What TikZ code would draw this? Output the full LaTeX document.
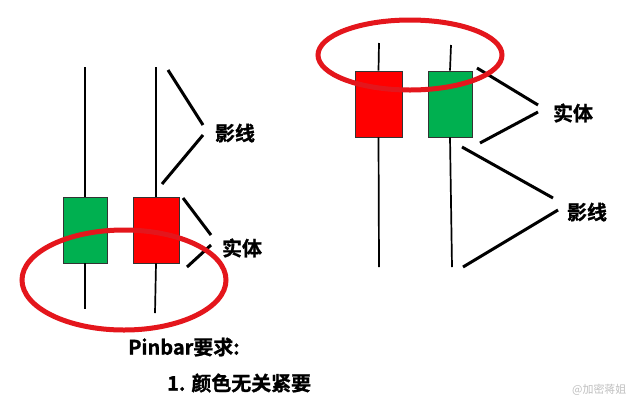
\documentclass[tikz,border=0pt]{standalone}
\usepackage{fontspec}
\usetikzlibrary{shapes.geometric}
\newfontfamily\cjk{Noto Sans CJK SC}[BoldFont={Noto Sans CJK SC Bold},BoldFeatures={FakeBold=1.2}]
\definecolor{cgreen}{RGB}{0,176,80}
\definecolor{cred}{RGB}{255,0,0}
\definecolor{ering}{RGB}{228,22,28}
\begin{document}
\begin{tikzpicture}[x=1bp,y=-1bp,
  body/.style={draw=black!80,line width=0.8bp,minimum width=44bp,minimum height=66bp,inner sep=0pt},
  wick/.style={line width=1.7bp,black},
  pointer/.style={line width=3bp,black},
  lbl/.style={font=\cjk\bfseries\fontsize{20}{24}\selectfont,inner sep=0pt},
  ring/.style={draw=ering,line width=5bp}]
\useasboundingbox (0,0) rectangle (639,408);
\fill[white] (0,0) rectangle (639,408);
% left pair
\coordinate (gt) at (85,67); \coordinate (gb) at (85,309);
\coordinate (rt) at (156,67); \coordinate (rb) at (155,313);
\node[body,fill=cgreen] (g1) at (85,230) {};
\node[body,fill=cred,minimum width=46bp] (r1) at (156,230) {};
\draw[wick] (g1.north) -- (gt);
\draw[wick] (g1.south) -- (gb);
\draw[wick] (r1.north) -- (rt);
\draw[wick] (r1.south) -- (rb);
\node[lbl] (ysx1) at (235,133) {影线};
\node[lbl] (st1) at (242,248) {实体};
\coordinate (a1) at (168,70); \coordinate (a2) at (203,125);
\coordinate (a3) at (203,135); \coordinate (a4) at (162,184);
\coordinate (b1) at (183,198); \coordinate (b2) at (211,235);
\coordinate (b3) at (211,245); \coordinate (b4) at (187,267);
\draw[pointer] (a1) -- (a2);
\draw[pointer] (a3) -- (a4);
\draw[pointer] (b1) -- (b2);
\draw[pointer] (b3) -- (b4);
\node[ring,ellipse,minimum width=204bp,minimum height=100bp,inner sep=0pt] (e1) at (124,280) {};
% right pair
\coordinate (rt2) at (379,43); \coordinate (rb2) at (379,267);
\coordinate (gt2) at (451,45); \coordinate (gb2) at (452,267);
\node[body,fill=cred,minimum width=47bp] (r2) at (378.5,104) {};
\node[body,fill=cgreen] (g2) at (450,104) {};
\draw[wick] (r2.north) -- (rt2);
\draw[wick] (r2.south) -- (rb2);
\draw[wick] (g2.north) -- (gt2);
\draw[wick] (g2.south) -- (gb2);
\node[lbl] (st2) at (573,113) {实体};
\node[lbl] (ysx2) at (587,212) {影线};
\coordinate (c1) at (477,68); \coordinate (c2) at (538,105);
\coordinate (c3) at (538,112); \coordinate (c4) at (480,143);
\coordinate (d1) at (462,147); \coordinate (d2) at (553,198);
\coordinate (d3) at (558,210); \coordinate (d4) at (463,267);
\draw[pointer] (c1) -- (c2);
\draw[pointer] (c3) -- (c4);
\draw[pointer] (d1) -- (d2);
\draw[pointer] (d3) -- (d4);
\node[ring,ellipse,minimum width=204bp,minimum height=100bp,inner sep=0pt,minimum width=184bp,minimum height=70bp] (e2) at (410,55) {};
% text
\node[lbl,anchor=west] (t1) at (128,347) {Pinbar要求:};
\node[lbl,anchor=west] (t2) at (167,383) {1. 颜色无关紧要};
\node[font=\cjk\fontsize{11}{13}\selectfont,text=black!25,anchor=west,inner sep=0pt] (wm) at (572,390) {@加密蒋姐};
\end{tikzpicture}
\end{document}
